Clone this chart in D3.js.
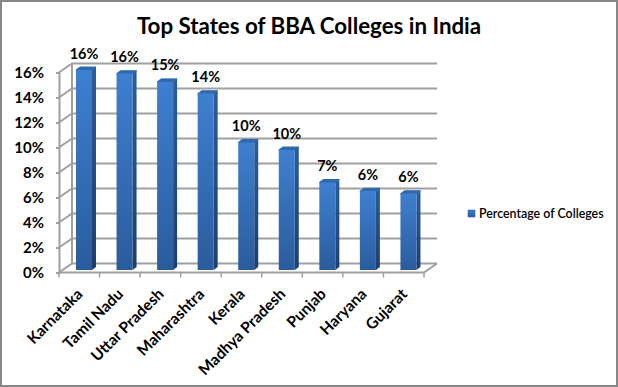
<!DOCTYPE html>
<html>
<head>
<meta charset="utf-8">
<script src="https://cdn.jsdelivr.net/npm/d3@7"></script>
<style>
  html, body { margin: 0; padding: 0; background: #fff; }
  svg { display: block; font-family: Lato, "Open Sans", sans-serif; }
</style>
</head>
<body>
<svg id="chart" width="618" height="387"></svg>
<script>
const states = ["Karnataka", "Tamil Nadu", "Uttar Pradesh", "Maharashtra", "Kerala", "Madhya Pradesh", "Punjab", "Haryana", "Gujarat"];
const percentages = [16, 15.7, 15.05, 14.1, 10.2, 9.6, 7, 6.3, 6.1];
const barLabels = ["16%", "16%", "15%", "14%", "10%", "10%", "7%", "6%", "6%"];
const yTicks = [0, 2, 4, 6, 8, 10, 12, 14, 16];
const seriesName = "Percentage of Colleges";
const title = "Top States of BBA Colleges in India";

const svg = d3.select("#chart");

// frame
svg.append("rect")
  .attr("x", 1).attr("y", 1).attr("width", 616).attr("height", 385)
  .attr("fill", "#fff").attr("stroke", "#868686").attr("stroke-width", 2);

// bar gradients
const defs = svg.append("defs");
const front = defs.append("linearGradient").attr("id", "barFront")
  .attr("x1", 0).attr("y1", 0).attr("x2", 0).attr("y2", 1);
front.append("stop").attr("offset", "0%").attr("stop-color", "#3f7fd0");
front.append("stop").attr("offset", "100%").attr("stop-color", "#2a5c9c");
const side = defs.append("linearGradient").attr("id", "barSide")
  .attr("x1", 0).attr("y1", 0).attr("x2", 0).attr("y2", 1);
side.append("stop").attr("offset", "0%").attr("stop-color", "#2b5c9a");
side.append("stop").attr("offset", "100%").attr("stop-color", "#1d3f6e");

const x = d3.scaleBand().domain(states).range([59, 424]).paddingInner(0).paddingOuter(0);
const y = d3.scaleLinear().domain([0, 16]).range([272.5, 72.5]);

// depth of the 3d box
const dx = 13, dy = -9;
const gridColor = "#a0a0a0";

const walls = svg.append("g").attr("fill", "none").attr("stroke", gridColor).attr("stroke-width", 2);
yTicks.forEach(t => {
  walls.append("path")
    .attr("d", `M${x.range()[0]},${y(t)}L${x.range()[0] + dx},${y(t) + dy}H${x.range()[1] + dx}`);
});
walls.append("line")
  .attr("x1", x.range()[0] + dx).attr("x2", x.range()[0] + dx)
  .attr("y1", y(0) + dy).attr("y2", y(16) + dy);
walls.append("path")
  .attr("d", `M${x.range()[0]},${y(0)}H${x.range()[1]}L${x.range()[1] + dx},${y(0) + dy}`);

// axes
const yAxis = d3.axisLeft(y).tickValues(yTicks).tickFormat(d => d + "%").tickSize(3).tickPadding(12);
const gy = svg.append("g").attr("transform", "translate(59,0)").call(yAxis);
gy.select(".domain").attr("stroke", gridColor).attr("stroke-width", 2);
gy.selectAll(".tick line").attr("stroke", gridColor).attr("stroke-width", 2);
gy.selectAll("text")
  .attr("fill", "#000").attr("font-size", 15).attr("font-weight", 700)
  .attr("font-family", "Lato, sans-serif");

const tickX = states.map((s, i) => x(s)).concat(x.range()[1]);
svg.append("g").selectAll("line").data(tickX).join("line")
  .attr("x1", d => d).attr("x2", d => d)
  .attr("y1", y(0)).attr("y2", y(0) + 5)
  .attr("stroke", gridColor).attr("stroke-width", 1.5);

// bars, standing a little inside the floor
const barW = 16, barDepth = 4, barLift = 2.5, barOffset = 17;
const bars = svg.append("g").selectAll("g").data(states).join("g")
  .attr("transform", d => `translate(${x(d) + barOffset},${-barLift})`);
const pct = (d) => percentages[states.indexOf(d)];

bars.append("path")
  .attr("fill", "url(#barSide)")
  .attr("d", d => `M${barW},${y(pct(d))}L${barW + barDepth},${y(pct(d)) - 3}V${y(0) - 3}L${barW},${y(0)}Z`);
bars.append("path")
  .attr("fill", "#2f68ad")
  .attr("stroke", "#2f68ad").attr("stroke-width", 1).attr("stroke-linejoin", "round")
  .attr("d", d => `M0,${y(pct(d))}L${barDepth},${y(pct(d)) - 3}H${barW + barDepth}L${barW},${y(pct(d))}Z`);
bars.append("rect")
  .attr("x", 0).attr("width", barW)
  .attr("y", d => y(pct(d)))
  .attr("height", d => y(0) - y(pct(d)))
  .attr("fill", "url(#barFront)");

// value labels
svg.append("g").selectAll("text").data(states).join("text")
  .attr("x", d => x(d) + barOffset + barW / 2)
  .attr("y", d => y(pct(d)) - 14)
  .attr("text-anchor", "middle")
  .attr("font-size", 14.5).attr("font-weight", 700).attr("fill", "#000")
  .text((d, i) => barLabels[i]);

// rotated category labels
svg.append("g").selectAll("text").data(states).join("text")
  .attr("transform", d => `translate(${x(d) + barOffset + 1},${y(0) + 16}) rotate(-45)`)
  .attr("text-anchor", "end")
  .attr("dy", "0.6em")
  .attr("font-size", 15.5).attr("font-weight", 700).attr("fill", "#000")
  .text(d => d);

// title
svg.append("text")
  .attr("x", 309).attr("y", 34)
  .attr("text-anchor", "middle")
  .attr("font-size", 22.3).attr("font-weight", 700).attr("fill", "#000")
  .text(title);

// legend
svg.append("rect")
  .attr("x", 468).attr("y", 210).attr("width", 7).attr("height", 7)
  .attr("fill", "url(#barFront)").attr("stroke", "#2a5c9c").attr("stroke-width", 0.5);
svg.append("text")
  .attr("x", 479).attr("y", 218)
  .attr("font-size", 12.4).attr("font-weight", 600).attr("fill", "#000")
  .text(seriesName);
</script>
</body>
</html>
